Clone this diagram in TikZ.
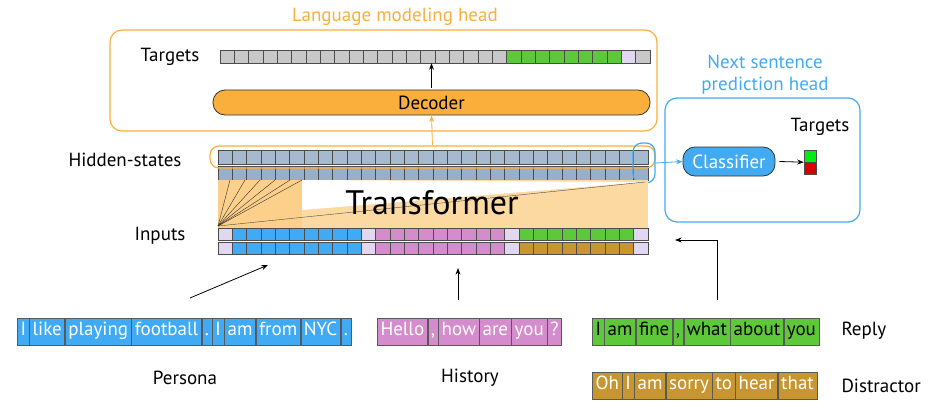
\documentclass[tikz,border=0pt]{standalone}
\usepackage{fontspec}
\setmainfont{PT Sans}
\usetikzlibrary{arrows.meta,positioning}
\definecolor{lmorange}{RGB}{250,175,60}
\definecolor{nspblue}{RGB}{66,170,240}
\definecolor{tokblue}{RGB}{64,170,245}
\definecolor{tokpink}{RGB}{212,140,204}
\definecolor{tokgreen}{RGB}{92,200,58}
\definecolor{tokochre}{RGB}{200,150,46}
\definecolor{toklav}{RGB}{225,215,240}
\definecolor{tokgray}{RGB}{200,200,200}
\definecolor{hidblue}{RGB}{128,155,185}
\definecolor{peach}{RGB}{252,217,160}
\tikzset{
  lbl/.style={font=\fontsize{19}{22}\selectfont},
  tok/.style={draw=gray!70!black, line width=0.6pt, inner xsep=3pt, inner ysep=0pt,
    minimum height=27pt, anchor=west, font=\fontsize{19}{22}\selectfont},
  cell/.style={draw=gray!60!black, line width=0.5pt},
  pill/.style={rounded corners=12pt, draw=gray!40!black, line width=0.8pt},
}
% one row of token boxes, chained from a start node
\newcommand{\tokrow}[4]{%
  \node[inner sep=0pt, minimum size=0pt] (#1-0) at #2 {};
  \foreach \w [count=\i, remember=\i as \j (initially 0)] in {#4}
    \node[tok, #3] (#1-\i) at (#1-\j.east) {\strut\w};
}
% one row of 30 cells
\newcommand{\cellrow}[3]{%
  \foreach \i in {0,...,29}{
    \pgfmathsetmacro{\xa}{218+\i*14.33}
    \draw[cell, fill=#3] (\xa,#1) rectangle ++(14.33,#2);
  }
}
\begin{document}
\begin{tikzpicture}[x=1pt,y=-1pt,>=Stealth]
\useasboundingbox (0,0) rectangle (935,420);

% language modeling head
\node[draw=lmorange, line width=1.2pt, rounded corners=12pt, minimum width=547pt,
  minimum height=101pt] (lmbox) at (383.5,80.5) {};
\node[lbl, text=lmorange] (lmtitle) at (395,17) {Language modeling head};
\node[lbl] (tgtlbl) at (170,57) {Targets};
\foreach \i in {0,...,29}{
  \pgfmathsetmacro{\xa}{220+\i*14.33}
  \ifnum\i<20 \def\cc{tokgray}\else\ifnum\i<28 \def\cc{tokgreen}\else\ifnum\i=28 \def\cc{toklav}\else\def\cc{tokgray}\fi\fi\fi
  \draw[cell, fill=\cc] (\xa,50) rectangle ++(14.33,13);
}
\node[minimum width=430pt, minimum height=13pt, inner sep=0pt] (tgt) at (435,56.5) {};
\node[pill, fill=lmorange, minimum width=437pt, minimum height=25pt, lbl] (dec) at (431.5,102.5) {Decoder};
\draw[->, thick] (dec.north) ++(0,-2) -- (dec.north |- tgt.south);

% hidden states
\node[lbl] (hidlbl) at (125,160) {Hidden-states};
\cellrow{150}{14}{hidblue!70!white}
\cellrow{166}{14}{hidblue!80!white}
\node[draw=lmorange, line width=1.2pt, rounded corners=9pt, minimum width=445pt,
  minimum height=22pt, inner sep=0pt] (hid) at (432.5,157) {};
\node[draw=nspblue, line width=1.2pt, rounded corners=9pt, minimum width=22pt,
  minimum height=40pt, inner sep=0pt] (last) at (644,163) {};
\draw[->, lmorange, thick] (hid.north) -- (dec.south);

% transformer
\fill[peach] (218,180) rectangle (648,228);
\fill[white] (302,180) -- (645,182) -- (302,210) -- cycle;
\fill[lmorange!60] (218,180) rectangle (302,228);
\draw[gray!60!black] (218,226) -- (645,182);
\foreach \x in {230,245,260,275,290,302}
  \draw[gray!40!black, thin] (218,226) -- (\x,180);
\node[font=\fontsize{34}{36}\selectfont] (trf) at (432,203) {Transformer};

% inputs
\node[lbl] (inlbl) at (160,236) {Inputs};
\foreach \r/\y/\last in {0/228/tokgreen, 1/242/tokochre}{
  \foreach \i in {0,...,29}{
    \pgfmathsetmacro{\xa}{218+\i*14.33}
    \ifnum\i=0 \def\cc{toklav}\else\ifnum\i<10 \def\cc{tokblue}\else\ifnum\i=10 \def\cc{toklav}\else
    \ifnum\i<20 \def\cc{tokpink}\else\ifnum\i=20 \def\cc{toklav}\else\ifnum\i<29 \def\cc{\last}\else\def\cc{toklav}\fi\fi\fi\fi\fi\fi
    \draw[cell, fill=\cc] (\xa,\y) rectangle ++(14.33,12);
  }
}
\node[minimum width=430pt, minimum height=26pt, inner sep=0pt] (inp) at (433,241) {};

% next sentence prediction head
\node[draw=nspblue, line width=1.2pt, rounded corners=12pt, minimum width=195pt,
  minimum height=124pt] (nspbox) at (762.5,160) {};
\node[lbl, text=nspblue, align=center] (nsptitle) at (765,75) {Next sentence\\prediction head};
\node[lbl] (nsptgtlbl) at (820,127) {Targets};
\node[pill, fill=nspblue, text=white, minimum width=92pt, minimum height=29pt, lbl] (cls) at (729,161.5) {Classifier};
\node[draw=gray!60!black, fill=green!85!teal, minimum width=12pt, minimum height=12pt, inner sep=0pt] (ok) at (810,156) {};
\node[draw=gray!60!black, fill=red!85!black, minimum width=12pt, minimum height=12pt, inner sep=0pt, below=0pt of ok] (no) {};
\draw[->, thick] (cls.east) ++(4,0) -- (ok.south west);
\draw[->, nspblue, thick] (last.east) -- (cls.west);

% token sequences
\tokrow{per}{(17,331.5)}{fill=tokblue, text=white}{I,like,playing,football,.,I,am,from,NYC,.}
\tokrow{his}{(377,331.5)}{fill=tokpink, text=white}{Hello,{,},how,are,you,?}
\tokrow{rep}{(592,331.5)}{fill=tokgreen}{I,am,fine,{,},what,about,you}
\tokrow{dis}{(592,385.5)}{fill=tokochre, text=white}{Oh,I,am,sorry,to,hear,that}
\node[lbl] (perlbl) at (185,378) {Persona};
\node[lbl] (hislbl) at (470,378) {History};
\node[lbl, anchor=west] (replbl) at (838,331) {Reply};
\node[lbl, anchor=west] (dislbl) at (838,386) {Distractor};

\coordinate (perend) at (268,265);
\coordinate (bend) at (717,240);
\draw[->, thick] (190,298) -- (perend);
\draw[->, thick] (458,300) -- (458,268);
\draw[->, thick] (717,300) -- (bend) -- (675,240);
\end{tikzpicture}
\end{document}
